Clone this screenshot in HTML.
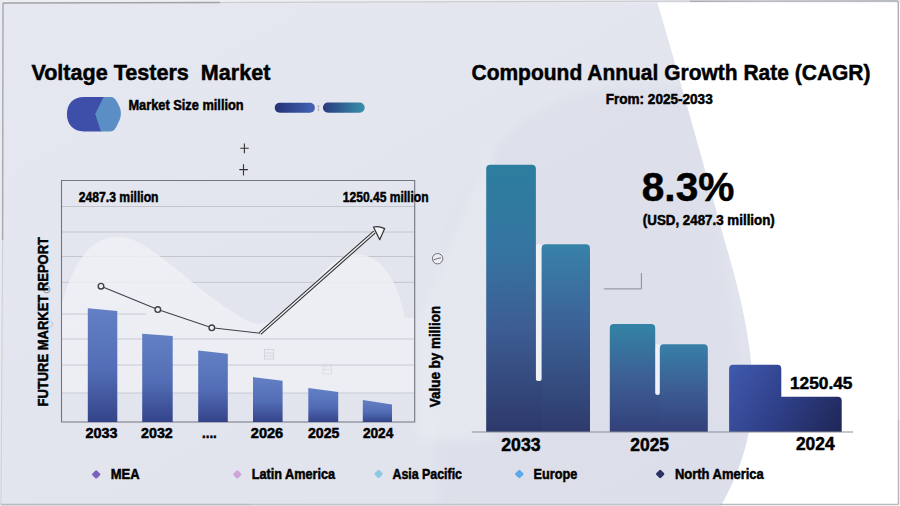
<!DOCTYPE html>
<html><head><meta charset="utf-8">
<style>
html,body{margin:0;padding:0;width:900px;height:506px;overflow:hidden;background:#e4e7ef;}
svg{position:absolute;left:0;top:0;}
text{font-family:"Liberation Sans",sans-serif;font-weight:bold;fill:#000;stroke:#000;stroke-width:0.5px;}
</style></head><body>
<svg width="900" height="506" viewBox="0 0 900 506">
<defs>
  <filter id="blur4" x="-20%" y="-20%" width="140%" height="140%"><feGaussianBlur stdDeviation="4"/></filter>
  <filter id="blur2" x="-20%" y="-20%" width="140%" height="140%"><feGaussianBlur stdDeviation="1.5"/></filter>
  <linearGradient id="bgL" x1="0" y1="0" x2="1" y2="1">
    <stop offset="0" stop-color="#e5e8f0"/>
    <stop offset="1" stop-color="#dfe2ec"/>
  </linearGradient>
  <linearGradient id="barL" x1="0" y1="0" x2="0" y2="1">
    <stop offset="0" stop-color="#6380c5"/>
    <stop offset="0.55" stop-color="#526db5"/>
    <stop offset="1" stop-color="#34438a"/>
  </linearGradient>
  <linearGradient id="barR" gradientUnits="userSpaceOnUse" x1="0" y1="165" x2="0" y2="432">
    <stop offset="0" stop-color="#2c7e9f"/>
    <stop offset="0.3" stop-color="#3576a1"/>
    <stop offset="0.62" stop-color="#3d5c92"/>
    <stop offset="1" stop-color="#2d386a"/>
  </linearGradient>
  <linearGradient id="barRB" gradientUnits="userSpaceOnUse" x1="0" y1="244" x2="0" y2="432">
    <stop offset="0" stop-color="#3882a8"/>
    <stop offset="0.4" stop-color="#3c6499"/>
    <stop offset="1" stop-color="#2f3a6c"/>
  </linearGradient>
  <linearGradient id="barRD" gradientUnits="userSpaceOnUse" x1="0" y1="344" x2="0" y2="432">
    <stop offset="0" stop-color="#3780a7"/>
    <stop offset="0.5" stop-color="#3d5e93"/>
    <stop offset="1" stop-color="#33407a"/>
  </linearGradient>
  <linearGradient id="barR2" gradientUnits="userSpaceOnUse" x1="0" y1="324" x2="0" y2="432">
    <stop offset="0" stop-color="#3383a6"/>
    <stop offset="0.5" stop-color="#3d5f94"/>
    <stop offset="1" stop-color="#33407a"/>
  </linearGradient>
  <linearGradient id="barN" gradientUnits="userSpaceOnUse" x1="730" y1="365" x2="840" y2="432">
    <stop offset="0" stop-color="#4059ad"/>
    <stop offset="0.5" stop-color="#2f3f88"/>
    <stop offset="1" stop-color="#1f2757"/>
  </linearGradient>
  <linearGradient id="pill1" x1="0" y1="0" x2="1" y2="0">
    <stop offset="0" stop-color="#243276"/>
    <stop offset="1" stop-color="#4463b6"/>
  </linearGradient>
  <linearGradient id="pill2" x1="0" y1="0" x2="1" y2="0">
    <stop offset="0" stop-color="#2a3a7e"/>
    <stop offset="1" stop-color="#3791ab"/>
  </linearGradient>
</defs>

<!-- background -->
<rect x="0" y="0" width="900" height="506" fill="url(#bgL)"/>
<path d="M430,330 C440,230 470,140 560,100 C600,86 640,84 700,90 L760,506 L440,506 Z" fill="#dadde8" opacity="0.55" filter="url(#blur4)"/>
<!-- light wave in chart -->

<!-- white right region -->
<path d="M656.6,0 C670,45 690,115 733,270 C745,315 753,355 752.5,395 C752,440 738,475 721,506 L900,506 L900,0 Z" fill="#ffffff"/>

<!-- frame border -->
<rect x="0" y="0" width="900" height="2.5" fill="#eceef2"/>
<rect x="0" y="0" width="2.5" height="506" fill="#e9ebf0"/>
<path d="M3,3 L220,2.5" stroke="#a0a2a8" stroke-width="1.4" fill="none"/>
<path d="M220,2.5 L690,1.2" stroke="#c9cbd1" stroke-width="1.2" fill="none"/>
<path d="M690,1.2 L898,1" stroke="#a9abb0" stroke-width="1.4" fill="none"/>
<path d="M3,3 L2.6,240" stroke="#a6a8ae" stroke-width="1.4" fill="none"/>
<path d="M2.6,240 L1,505" stroke="#cdd0d6" stroke-width="1.2" fill="none"/>
<path d="M898.3,1 L898.3,200" stroke="#aeb0b4" stroke-width="1.5" fill="none"/>
<path d="M898.3,200 L898.5,420" stroke="#c0c2c6" stroke-width="1.3" fill="none"/>
<path d="M898.5,420 L898.5,504.5" stroke="#b4b6ba" stroke-width="1.5" fill="none"/>
<path d="M1,504.5 L250,504.5" stroke="#b9bbc1" stroke-width="1.4" fill="none"/>
<path d="M250,504.5 L720,504.5" stroke="#c2c4ca" stroke-width="1.3" fill="none"/>
<path d="M720,504.5 L898.5,504.5" stroke="#b8babe" stroke-width="1.4" fill="none"/>

<!-- title left -->
<text x="31.4" y="79.6" font-size="22.5" textLength="239" lengthAdjust="spacingAndGlyphs" xml:space="preserve">Voltage Testers  Market</text>

<!-- cylinder icon -->
<path d="M84,96.9 H104.3 L95.8,114 L101.5,131.4 H84 C73,131.4 66.9,124 66.9,114.2 C66.9,104 73,96.9 84,96.9 Z" fill="#3d4fa9"/>
<path d="M103.6,96.9 H110.5 C113.5,96.9 115.2,98.5 117,101.8 L119.8,107.5 C121.2,110.5 121.2,116.5 119.8,119.5 L117,125.5 C115.2,129.5 113.5,131.4 110.5,131.4 H101 L95.2,114 Z" fill="#5a8ec5"/>

<text x="128.4" y="109.6" font-size="14.5" textLength="115.3" lengthAdjust="spacingAndGlyphs">Market Size million</text>

<!-- pills -->
<rect x="274.7" y="102.7" width="40.2" height="10" rx="5" fill="url(#pill1)"/>
<rect x="322.9" y="102.5" width="41.8" height="10.2" rx="5.1" fill="url(#pill2)"/>
<path d="M318.4,105.5 V110.8 M317.5,106.5 L318.4,105.5 L319.3,106.5 M317.5,109.8 L318.4,110.8 L319.3,109.8" fill="none" stroke="#9a9ca4" stroke-width="0.6"/>

<!-- plus signs -->
<path d="M240.3,148.3 H248.7 M244.4,143.4 V153.3" stroke="#333" stroke-width="1.1"/>
<path d="M239.3,169.6 H247.9 M243.5,164.2 V175.5" stroke="#333" stroke-width="1.1"/>

<!-- chart frame -->
<g stroke="#c4c6ce" stroke-width="1">
  <line x1="62" y1="206.5" x2="414.5" y2="206.5"/>
  <line x1="62" y1="232" x2="414.5" y2="232"/>
  <line x1="62" y1="256.5" x2="414.5" y2="256.5"/>
  <line x1="62" y1="282.3" x2="414.5" y2="282.3"/>
  </g>
<path d="M62,302 C68,282 78,258 92,246 C102,238 112,236 122,237 C150,240 190,285 230,310 C240,317 248,322 254,323 C290,330 320,262 345,256 C362,252 374,256 384,268 C396,282 401,300 405,318 L414,318 L414,393 L62,393 Z" fill="#eef0f4" opacity="0.85"/>
<g stroke="#c8cad2" stroke-width="1"><line x1="62" y1="314" x2="146" y2="314"/><line x1="62" y1="339" x2="414.5" y2="339"/><line x1="62" y1="365" x2="414.5" y2="365"/><line x1="62" y1="393" x2="414.5" y2="393"/></g>
<path d="M418,330 C440,265 468,195 492,140 L492,440 L418,440 Z" fill="#eceef3" opacity="0.55" filter="url(#blur4)"/>
<path d="M61.5,422 V180.5 H414.7 V422 Z" fill="none" stroke="#73767e" stroke-width="1.1"/>

<!-- left bars -->
<path d="M87.8,308.2 L117.3,311 L117.3,422 L87.8,422 Z" fill="url(#barL)"/>
<path d="M142.2,333.8 L172.7,336 L172.7,422 L142.2,422 Z" fill="url(#barL)"/>
<path d="M198.2,350.4 L227.8,353.8 L227.8,422 L198.2,422 Z" fill="url(#barL)"/>
<path d="M253,377 L282.6,380.8 L282.6,422 L253,422 Z" fill="url(#barL)"/>
<path d="M308.3,388 L338.2,391.9 L338.2,422 L308.3,422 Z" fill="url(#barL)"/>
<path d="M362.8,400.1 L392,404.5 L392,422 L362.8,422 Z" fill="url(#barL)"/>

<!-- faint icons -->
<g fill="none" stroke="#b9bdc7" stroke-width="0.9" opacity="0.55">
  <rect x="264.5" y="349.5" width="9" height="9.5"/>
  <path d="M264.5,353 H273.5 M264.5,356 H273.5"/>
  <rect x="323" y="366" width="8.5" height="8" opacity="0.7"/>
  <path d="M323,369.5 H331.5" opacity="0.7"/>
</g>
<circle cx="46.6" cy="289.4" r="3.4" fill="none" stroke="#8d9098" stroke-width="1"/>
<circle cx="49.5" cy="324" r="3" fill="none" stroke="#c0c3ca" stroke-width="0.9"/>
<!-- line -->
<polyline points="101,286.2 157.8,309.6 211.8,327.8 260.5,333.2" fill="none" stroke="#404048" stroke-width="1.05"/>
<g fill="#eef0f4" stroke="#404048" stroke-width="1.4">
  <circle cx="101" cy="286.2" r="2.8"/>
  <circle cx="157.8" cy="309.6" r="2.8"/>
  <circle cx="211.8" cy="327.8" r="2.8"/>
</g>
<!-- arrow -->
<path d="M260,333.5 L374.5,232" stroke="#333" stroke-width="3.6" fill="none"/>
<path d="M260,333.5 L374.5,232" stroke="#f2f3f6" stroke-width="1.4" fill="none"/>
<path d="M373.5,227 Q379,226 384.7,228.6 L379.7,239.7 Z" fill="#f4f5f8" stroke="#333" stroke-width="1.2" stroke-linejoin="round"/>

<text x="78.8" y="201.7" font-size="14" textLength="79.7" lengthAdjust="spacingAndGlyphs">2487.3 million</text>
<text x="342.8" y="201.7" font-size="14" textLength="85.7" lengthAdjust="spacingAndGlyphs">1250.45 million</text>

<!-- x labels left -->
<g font-size="15">
<text x="85.6" y="438.4" textLength="32" lengthAdjust="spacingAndGlyphs">2033</text>
<text x="141.1" y="438.4" textLength="31.7" lengthAdjust="spacingAndGlyphs">2032</text>
<text x="202" y="438.4" textLength="14.8" lengthAdjust="spacingAndGlyphs">....</text>
<text x="250.8" y="438.4" textLength="32.4" lengthAdjust="spacingAndGlyphs">2026</text>
<text x="308" y="438.4" textLength="31.4" lengthAdjust="spacingAndGlyphs">2025</text>
<text x="362.9" y="438.4" textLength="30.4" lengthAdjust="spacingAndGlyphs">2024</text>
</g>

<!-- vertical axis labels -->
<text transform="translate(48.4,406.5) rotate(-90)" x="0" y="0" font-size="15.5" textLength="169.5" lengthAdjust="spacingAndGlyphs">FUTURE MARKET REPORT</text>
<text transform="translate(439.8,407.2) rotate(-90)" x="0" y="0" font-size="14" textLength="101.4" lengthAdjust="spacingAndGlyphs">Value by million</text>
<circle cx="437.6" cy="258.7" r="5.2" fill="#eceef4" stroke="#6c6f78" stroke-width="1"/>
<path d="M433.5,260 Q437,258.3 441,257.8" stroke="#6c6f78" stroke-width="1" fill="none"/>

<!-- right title -->
<text x="471.5" y="79.5" font-size="22.5" textLength="399" lengthAdjust="spacingAndGlyphs">Compound Annual Growth Rate (CAGR)</text>
<text x="605.7" y="103.5" font-size="14.3" textLength="107" lengthAdjust="spacingAndGlyphs">From: 2025-2033</text>
<text x="641.8" y="201.2" font-size="40" textLength="92.5" lengthAdjust="spacingAndGlyphs">8.3%</text>
<text x="642.8" y="225" font-size="14" textLength="132" lengthAdjust="spacingAndGlyphs">(USD, 2487.3 million)</text>

<!-- right bars -->
<rect x="535.5" y="244.3" width="6.6" height="136" rx="2.5" fill="#eff1f6"/>
<rect x="654.9" y="344.2" width="5.4" height="51" rx="2.5" fill="#eff1f6"/>
<path d="M486.2,432 V169 Q486.2,164.8 490.4,164.8 H531.7 Q535.9,164.8 535.9,169 V379 Q535.9,381 538.8,381 Q541.8,381 541.8,379 L542.4,379 V432 Z" fill="url(#barR)"/>
<path d="M541.6,432 V248.5 Q541.6,244.3 545.8,244.3 H585.8 Q590,244.3 590,248.5 V432 Z" fill="url(#barRB)"/>
<path d="M609.8,432 V328 Q609.8,324 613.8,324 H651.2 Q655.2,324 655.2,328 V393 Q655.2,395 657.6,395 Q660,395 660,393 L660.6,393 V432 Z" fill="url(#barR2)"/>
<path d="M659.8,432 V348.2 Q659.8,344.2 663.8,344.2 H703.8 Q707.8,344.2 707.8,348.2 V432 Z" fill="url(#barRD)"/>
<path d="M729.1,432 V368.8 Q729.1,364.8 733.1,364.8 H777.3 Q781.3,364.8 781.3,368.8 V396.7 H837.7 Q841.7,396.7 841.7,400.7 V432 Z" fill="url(#barN)"/>
<line x1="471.7" y1="432" x2="853" y2="432" stroke="#8a8d96" stroke-width="1"/>
<path d="M603.8,288.9 H641.4 V273" fill="none" stroke="#8a8c94" stroke-width="1"/>

<text x="790" y="389.1" font-size="17.3" textLength="62.4" lengthAdjust="spacingAndGlyphs">1250.45</text>
<g font-size="18.5">
<text x="501.3" y="450.6" textLength="39.3" lengthAdjust="spacingAndGlyphs">2033</text>
<text x="630.3" y="450.5" textLength="38.7" lengthAdjust="spacingAndGlyphs">2025</text>
<text x="795.9" y="450.2" textLength="38.7" lengthAdjust="spacingAndGlyphs">2024</text>
</g>

<!-- legend -->
<g>
<rect x="92.9" y="471.1" width="6.6" height="6.6" rx="1.3" transform="rotate(45 96.2 474.4)" fill="#7b62c0"/>
<rect x="234.0" y="471.1" width="6.6" height="6.6" rx="1.3" transform="rotate(45 237.3 474.4)" fill="#cda5da"/>
<rect x="375.3" y="470.6" width="6.6" height="6.6" rx="1.3" transform="rotate(45 378.6 473.9)" fill="#90c8e2"/>
<rect x="516.0" y="470.7" width="6.6" height="6.6" rx="1.3" transform="rotate(45 519.3 474)" fill="#5aa9e8"/>
<rect x="656.9" y="470.7" width="6.6" height="6.6" rx="1.3" transform="rotate(45 660.2 474)" fill="#2b3162"/>
</g>
<g font-size="14.5">
<text x="110.7" y="478.9" textLength="28.9" lengthAdjust="spacingAndGlyphs">MEA</text>
<text x="251.7" y="478.9" textLength="83.3" lengthAdjust="spacingAndGlyphs">Latin America</text>
<text x="392.5" y="478.9" textLength="69.5" lengthAdjust="spacingAndGlyphs">Asia Pacific</text>
<text x="533.6" y="478.9" textLength="43.6" lengthAdjust="spacingAndGlyphs">Europe</text>
<text x="674.9" y="478.9" textLength="88.9" lengthAdjust="spacingAndGlyphs">North America</text>
</g>
</svg>
</body></html>
